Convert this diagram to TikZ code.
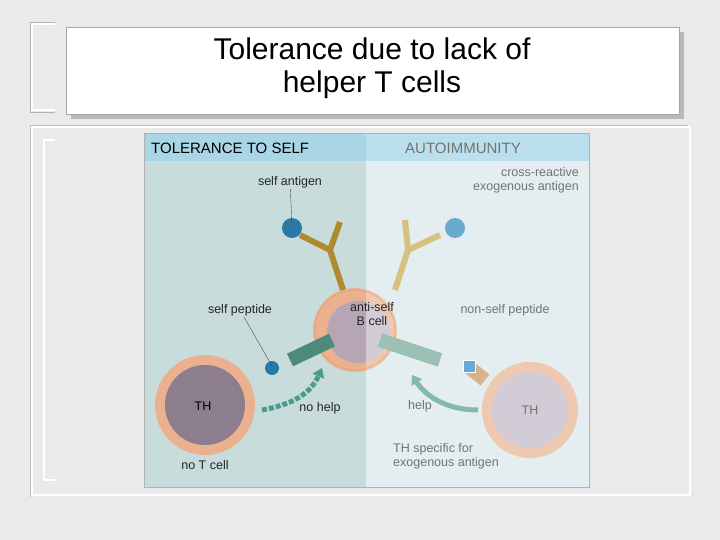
\documentclass[tikz,border=0pt]{standalone}
\usepackage{fontspec}
\setmainfont{Liberation Sans}
\usetikzlibrary{arrows.meta}
\definecolor{slidebg}{HTML}{EAEAEA}
\definecolor{leftbg}{HTML}{C8DCDC}
\definecolor{rightbg}{HTML}{E4EEF0}
\definecolor{hdrL}{HTML}{A9D5E6}
\definecolor{hdrR}{HTML}{BBDFEC}
\definecolor{orng}{HTML}{EBB08E}
\definecolor{orngL}{HTML}{EEC8B0}
\definecolor{cellin}{HTML}{B5A5B5}
\definecolor{thcore}{HTML}{8C7E8E}
\definecolor{thcoreR}{HTML}{D2CCD6}
\definecolor{brn}{HTML}{B08A30}
\definecolor{brnL}{HTML}{D8C080}
\definecolor{agn}{HTML}{2A7AA8}
\definecolor{agnL}{HTML}{6AAAD0}
\definecolor{grn}{HTML}{4E8A7A}
\definecolor{grnL}{HTML}{9CC0B4}
\definecolor{arrowc}{HTML}{4E9A8C}
\tikzset{lbl/.style={font=\fontsize{12.5}{14}\selectfont, text=black!85, inner sep=1pt},
lblR/.style={lbl, text=black!55},
hdr/.style={font=\fontsize{15}{17}\selectfont, inner sep=1pt},
rec/.style={line width=6pt},
help/.style={-{Triangle[length=9pt,width=12pt]}, line width=5pt}}
\begin{document}
\begin{tikzpicture}[x=1pt,y=-1pt]
\useasboundingbox (0,0) rectangle (720,540);
\fill[slidebg] (0,0) rectangle (720,540);
\draw[white, line width=2pt] (55,24) -- (32,24) -- (32,110) -- (55,110);
\draw[gray!60, line width=0.8pt] (55,22) -- (30,22) -- (30,112) -- (55,112);
\draw[white, line width=2pt] (32,127) -- (690,127) -- (690,495) -- (32,495) -- cycle;
\draw[gray!50, line width=0.8pt] (30,125) -- (688,125);
\draw[gray!50, line width=0.8pt] (30,125) -- (30,497);
\draw[white, line width=2pt] (55,140) -- (44,140) -- (44,480) -- (55,480);
\fill[gray!55] (71,32) rectangle (684,119);
\node[draw=gray!70, fill=white, minimum width=613pt, minimum height=87pt, anchor=north west, inner sep=0pt] (title) at (66,27) {};
\node[font=\fontsize{30}{33}\selectfont, align=center] (titletext) at (372,68) {Tolerance due to lack of\\helper T cells};
\fill[leftbg] (144,133) rectangle (366,487);
\fill[rightbg] (366,133) rectangle (589,487);
\fill[hdrL] (144,133) rectangle (366,161);
\fill[hdrR] (366,133) rectangle (589,161);
\draw[gray!60] (144,133) rectangle (589,487);
\node[hdr, anchor=west] (h1) at (150,148) {TOLERANCE TO SELF};
\node[hdr, anchor=west, text=black!55] (h2) at (404,148) {AUTOIMMUNITY};
\begin{scope}
\clip (144,133) rectangle (366,487);
\fill[orng] (355,330) circle (42);
\fill[cellin] (358,332) circle (31);
\end{scope}
\begin{scope}
\clip (366,133) rectangle (589,487);
\fill[orngL] (355,330) circle (42);
\fill[thcoreR] (358,332) circle (31);
\end{scope}
\draw[orng!60!brown, densely dotted, line width=1pt] (355,330) circle (40);
\draw[brn, rec] (343,290) -- (330,250);
\draw[brn, rec] (330,250) -- (300,235);
\draw[brn, rec] (330,250) -- (340,222);
\fill[agn] (292,228) circle (10);
\node[lbl] (sa) at (290,182) {self antigen};
\draw[black!70] (sa) -- (292,226);
\draw[brnL, rec] (395,290) -- (408,250);
\draw[brnL, rec] (408,250) -- (440,235);
\draw[brnL, rec] (408,250) -- (405,220);
\fill[agnL] (455,228) circle (10);
\node[lblR, align=right, anchor=east] (cr) at (580,180) {cross-reactive\\exogenous antigen};
\draw[grn, line width=14pt] (332,340) -- (290,360);
\fill[agn] (272,368) circle (7);
\node[lbl] (sp) at (240,310) {self peptide};
\draw[black!70] (sp) -- (272,366);
\draw[grnL, line width=14pt] (380,340) -- (440,360);
\draw[brown!60, line width=14pt] (470,368) -- (485,380);
\fill[agnL] (463,360) rectangle (475,372);
\draw[white] (463,360) rectangle (475,372);
\node[lblR] (nsp) at (505,310) {non-self peptide};
\fill[orng] (205,405) circle (50);
\fill[thcore] (205,405) circle (40);
\node[lbl, text=black] (th1) at (203,406) {TH};
\fill[orngL] (530,410) circle (48);
\fill[thcoreR] (530,410) circle (38);
\node[lblR] (th2) at (530,410) {TH};
\draw[help, arrowc, dash pattern=on 5pt off 2pt] (262,410) .. controls (290,405) and (310,395) .. (322,368);
\draw[help, arrowc!70] (478,410) .. controls (445,410) and (425,395) .. (412,375);
\node[lbl] (nh) at (320,408) {no help};
\node[lblR] (hp) at (420,406) {help};
\node[lbl] (nt) at (205,465) {no T cell};
\node[lblR, align=left, anchor=west] (ths) at (392,456) {TH specific for\\exogenous antigen};
\node[lbl, align=center] (as) at (372,314) {anti-self\\B cell};
\end{tikzpicture}
\end{document}
